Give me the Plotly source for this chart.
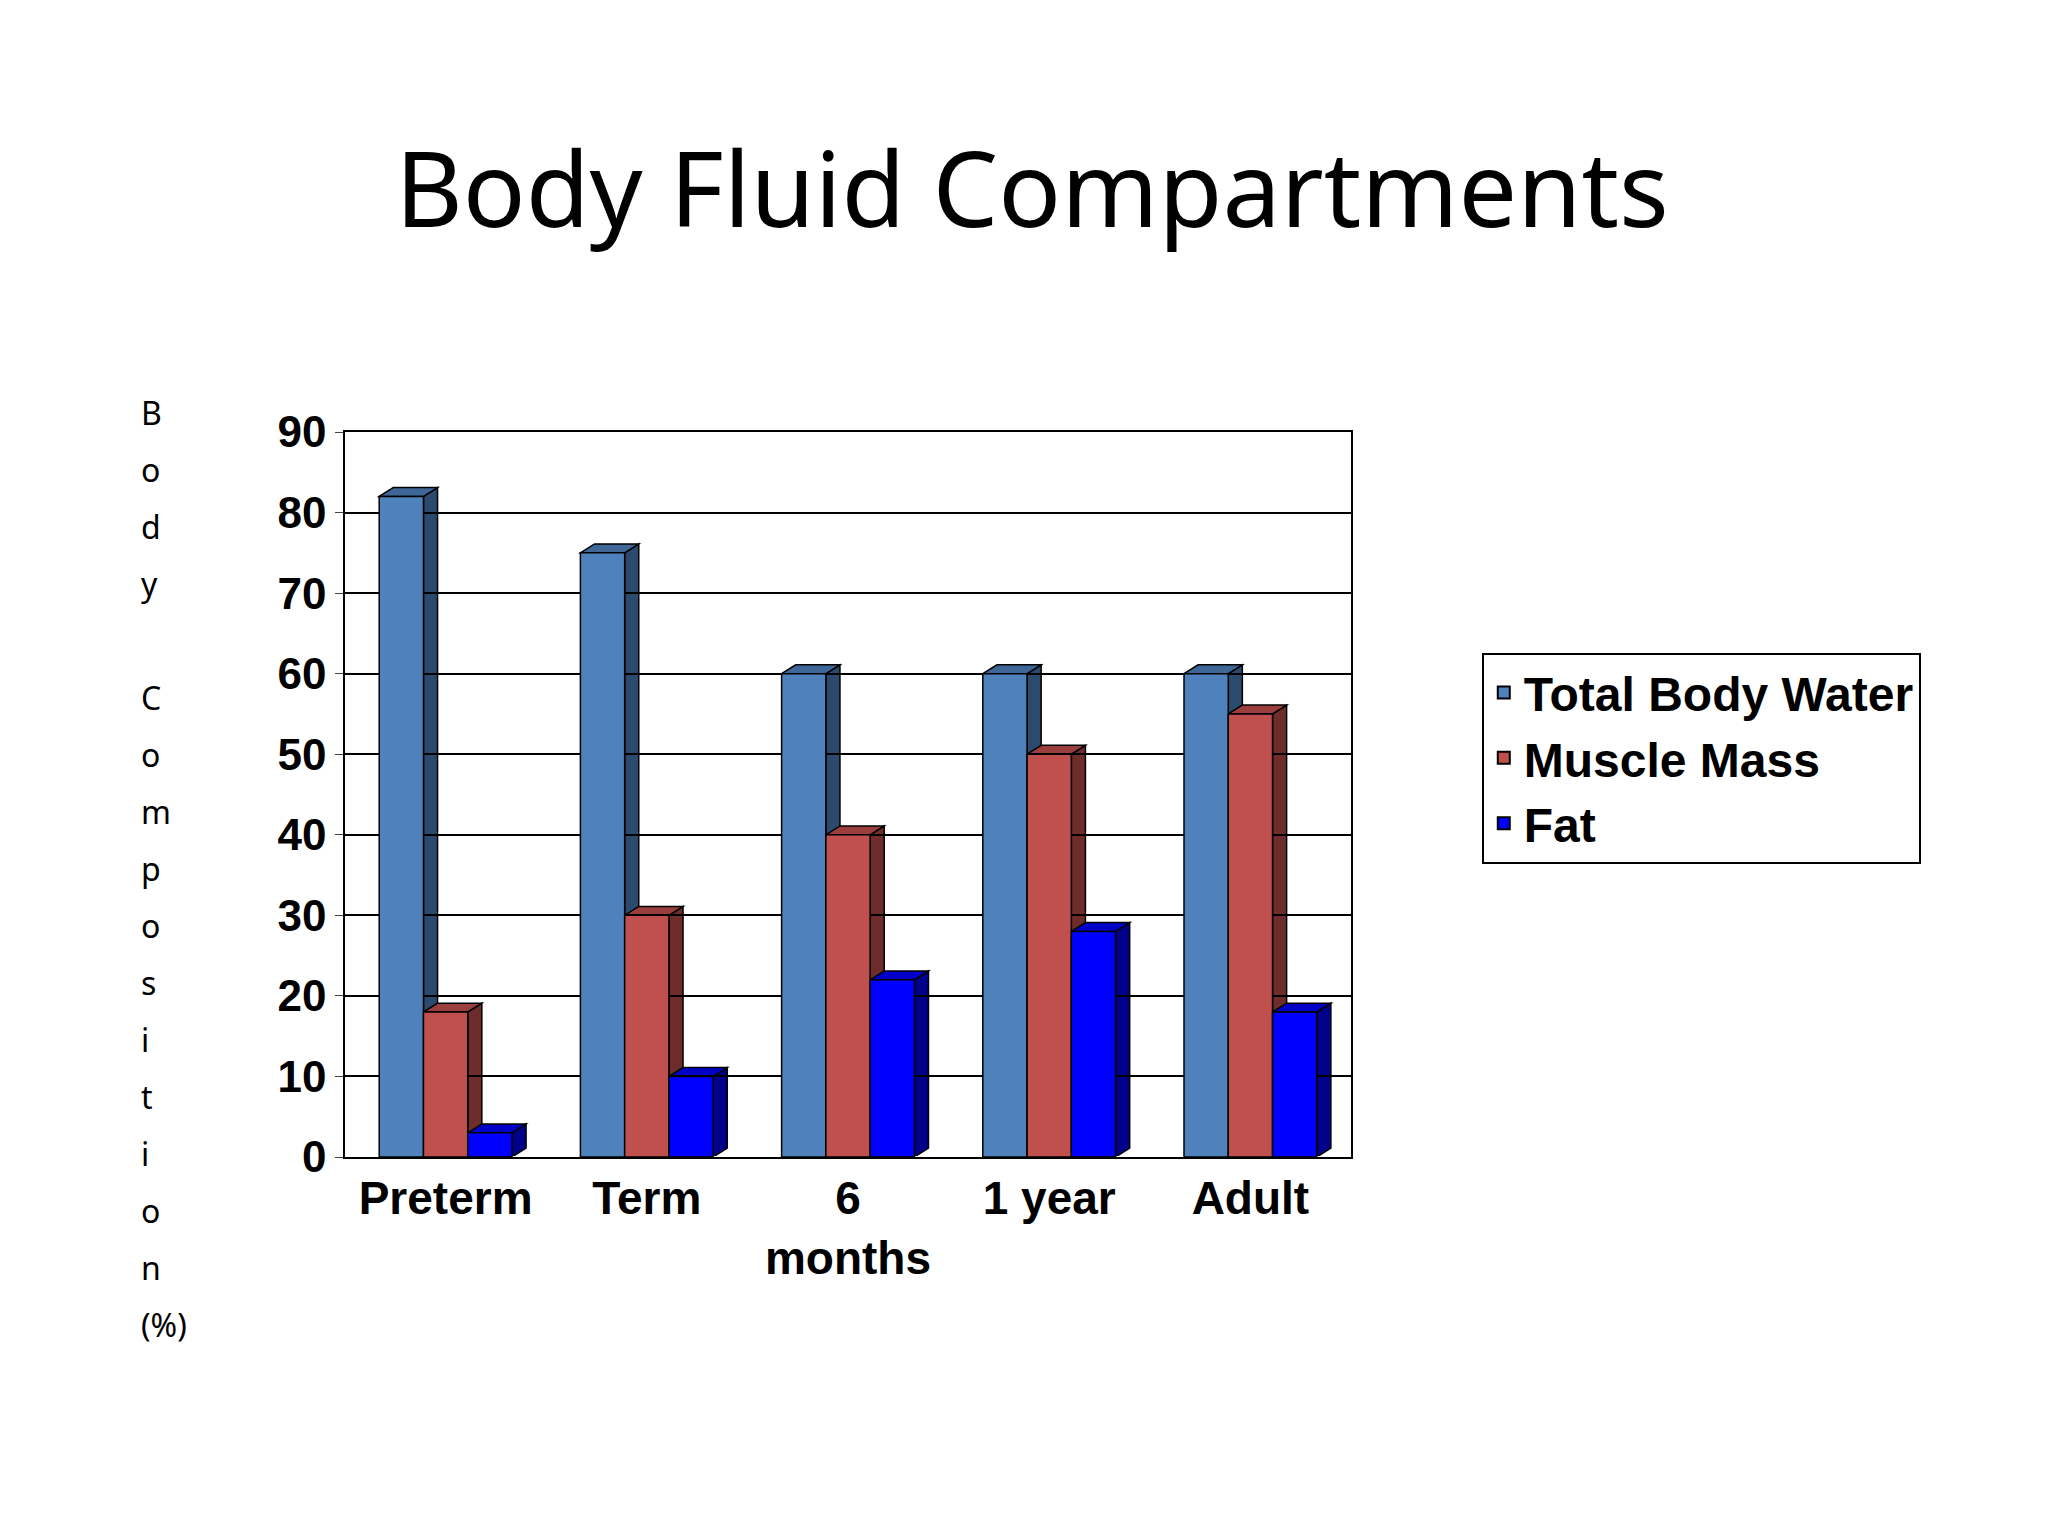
import plotly.graph_objects as go

categories = ["Preterm", "Term", "6<br>months", "1 year", "Adult"]
series_names = ["Total Body Water", "Muscle Mass", "Fat"]
total_water = [82, 75, 60, 60, 60]
muscle_mass = [18, 30, 40, 50, 55]
fat = [3, 10, 22, 28, 18]
y_title = ["B", "o", "d", "y", "", "C", "o", "m", "p", "o", "s", "i", "t", "i", "o", "n", "(%)"]

front = ["#4F81BD", "#C0504D", "#0000FF"]
side = ["#2C4A6E", "#6E2C2B", "#00008B"]
top = ["#3E6797", "#9A3F3D", "#0000C8"]

values = [total_water, muscle_mass, fat]
offsets = [-0.22, 0.0, 0.22]
w = 0.22
dx, dy = 0.07, 1.1

fig = go.Figure()
shapes = []
for s, name in enumerate(series_names):
    xs = [i + offsets[s] for i in range(len(categories))]
    fig.add_bar(x=xs, y=values[s], width=w, name=name,
                marker=dict(color=front[s], line=dict(color="black", width=1.5)))
    for x, v in zip(xs, values[s]):
        r = x + w / 2
        l = x - w / 2
        shapes.append(dict(type="path", xref="x", yref="y", layer="below",
                           path=f"M{r},0 L{r+dx},{dy} L{r+dx},{v+dy} L{r},{v} Z",
                           fillcolor=side[s], line=dict(color="black", width=1.5)))
        shapes.append(dict(type="path", xref="x", yref="y", layer="below",
                           path=f"M{l},{v} L{l+dx},{v+dy} L{r+dx},{v+dy} L{r},{v} Z",
                           fillcolor=top[s], line=dict(color="black", width=1.5)))

# vertical axis title, one letter per line
annotations = []
for k, ch in enumerate(y_title):
    if not ch:
        continue
    annotations.append(dict(text=ch, xref="paper", yref="paper", x=-0.205, y=1.059 - k * 0.0786,
                            xanchor="left", yanchor="top", showarrow=False,
                            font=dict(family="Noto Sans", size=32, color="black")))

fig.update_layout(
    width=2048, height=1536,
    plot_bgcolor="white", paper_bgcolor="white",
    shapes=shapes,
    barmode="overlay",
    title=dict(text="Body Fluid Compartments", x=0.5, xanchor="center", y=0.905,
               font=dict(family="Noto Sans, Open Sans", size=104, color="black")),
    margin=dict(l=337, r=705, t=424, b=387),
    font=dict(family="Liberation Sans, Arial", color="black"),
    legend=dict(x=1.13, y=0.55, xanchor="left", yanchor="middle",
                bordercolor="black", borderwidth=2,
                font=dict(size=48, family="Liberation Sans, Arial", weight="bold"),
                itemsizing="constant"),
    annotations=annotations,
)
fig.update_yaxes(range=[0, 90], dtick=10, showgrid=True, gridcolor="black", gridwidth=1.5,
                 showline=True, linecolor="black", linewidth=1.5, mirror=True,
                 ticks="outside", ticklen=8,
                 tickfont=dict(size=44, weight="bold"))
fig.update_xaxes(range=[-0.5, 4.5], tickvals=list(range(len(categories))),
                 ticktext=categories, showline=True, linecolor="black", linewidth=1.5,
                 mirror=True, showgrid=False,
                 tickfont=dict(size=46, weight="bold"))

fig.write_html("out.html")
